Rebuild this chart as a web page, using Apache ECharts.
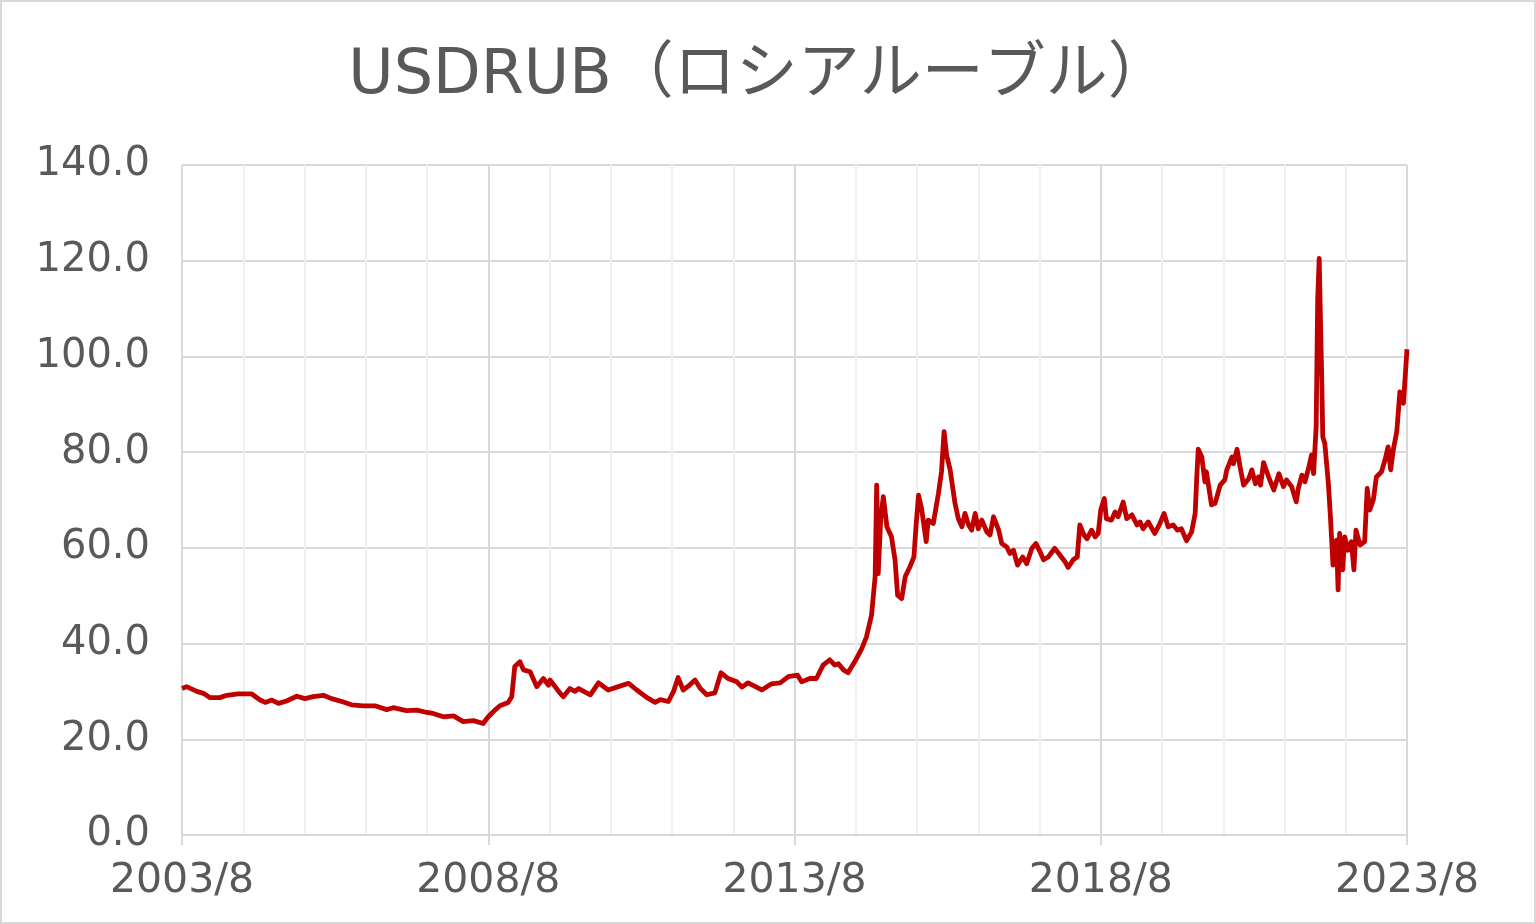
<!DOCTYPE html>
<html>
<head>
<meta charset="utf-8">
<script src="https://cdn.jsdelivr.net/npm/echarts@6/dist/echarts.min.js"></script>
<style>
html,body{margin:0;padding:0;background:#fff;}
#chart{width:1536px;height:924px;box-shadow:inset 0 0 0 2px #d9d9d9;}
</style>
</head>
<body>
<div id="chart"></div>
<script>
// months since 2003/8
const monthIdx = [
0,0.9,2.9,4.2,5.5,7.4,8.8,11,13.6,15.3,16.3,17.6,18.9,20.5,22.5,24.1,25.7,27.7,29.3,31.3,33.2,35.5,37.8,40.1,41.4,44,46,48,49.2,51.2,53.2,55.1,57.1,59,
60,61.3,62.3,63.9,64.6,65.2,66.2,66.9,68.2,69.5,70.8,71.8,72.1,74.1,74.7,76,77,77.7,80,
81.6,83.5,85.5,87.5,89.1,91.1,92.7,93.7,95.3,96.3,97.2,98.2,99.2,100.5,101.5,102.8,104.4,105.6,107,108.7,109.7,110.9,
113.6,115.5,117.2,118.8,120.6,121.4,123,124.3,125.6,126.9,127.9,128.6,129.6,130.5,131.9,133.2,134.1,135.1,135.8,
136.1,136.4,136.9,137.4,138.1,139,139.7,140.2,141,141.7,142.6,143.4,143.8,144.3,144.9,145.8,146.2,147.2,148.2,148.8,
149.3,149.8,150.5,151.4,152.1,152.8,153.4,154.1,154.7,155.4,156,156.7,157.7,158.3,159,160,160.6,161.6,162.2,162.9,
163.7,164.7,165.5,166.5,167.3,168.1,168.8,169.7,171,172,173,173.6,174.6,175.4,175.9,176.7,177.3,178.2,178.9,179.5,
180,180.7,181.1,182.1,182.8,183.4,184.4,185.1,186.1,187.1,187.7,188.3,189.3,190.6,191.6,192.4,193.2,194.2,195,195.8,
196.8,197.8,198.5,198.8,199.1,199.8,200.4,200.7,201.7,202.4,
203.4,204.3,204.7,205.7,206,206.7,207.3,208,209,209.6,210.3,210.9,211.3,211.9,212.9,213.9,214.9,215.8,216.4,217.4,
218.3,218.7,219.4,220,220.7,221.3,221.7,222.2,222.5,222.8,223.1,223.3,223.5,223.9,224.6,225,225.5,226.2,226.5,226.8,
227.4,227.8,228.4,229.1,229.6,230,230.8,231.7,232.2,232.7,233.4,234,235,235.7,236.3,236.8,237.3,238,238.6,239.3,240
];
const rate = [
30.6,31.0,30.0,29.6,28.7,28.7,29.2,29.5,29.5,28.2,27.7,28.2,27.5,28.0,29.0,28.5,28.9,29.2,28.5,27.9,27.2,27.0,27.0,26.2,26.6,26.0,26.1,25.6,25.4,24.7,24.9,23.7,23.9,23.3,
24.7,26.1,27.0,27.7,28.9,35.2,36.2,34.5,34.1,31.0,32.7,31.3,32.4,29.6,28.9,30.6,30.0,30.6,29.3,
31.8,30.3,31.0,31.7,30.3,28.7,27.7,28.3,27.9,30.0,32.9,30.3,31.1,32.4,30.7,29.3,29.7,33.9,32.7,32.0,30.9,31.8,
30.3,31.6,31.8,33.1,33.4,32.0,32.7,32.7,35.5,36.6,35.5,35.8,34.5,33.9,36.4,39.0,41.4,46.0,54.0,
73.1,54.6,66.1,70.7,64.4,62.3,57.5,50.1,49.4,54.0,56.0,58.1,64.4,71.0,68.2,61.3,65.8,65.1,71.4,75.9,
84.3,79.4,76.3,69.6,66.1,64.4,67.2,64.8,63.7,67.2,64.0,65.8,63.3,62.7,66.5,63.7,60.9,60.2,58.8,59.5,
56.4,58.1,56.7,59.9,60.9,59.2,57.5,58.1,59.9,58.5,57.1,55.9,57.5,58.1,64.8,62.7,61.9,63.7,62.3,63.0,
67.9,70.3,66.1,65.8,67.5,66.5,69.6,66.1,66.9,64.8,65.4,64.0,65.4,63.0,65.1,67.2,64.4,64.8,63.7,64.0,
61.5,63.3,67.2,74.5,80.6,79.0,73.8,75.9,69.0,69.3,
73.1,74.2,76.3,79.0,77.6,80.6,76.9,73.1,74.5,76.3,73.4,74.8,73.1,77.8,74.8,72.1,75.5,72.8,74.2,72.8,
69.6,72.4,75.2,73.8,76.6,79.4,75.5,85.3,111.8,120.5,104.8,95.1,83.2,81.8,73.4,66.5,56.4,61.6,51.2,63.0,
55.4,62.3,59.5,61.3,55.4,63.7,60.6,61.3,72.4,67.9,70.0,74.8,75.9,78.4,81.1,76.3,80.4,84.3,92.6,90.2,101.5
];
const startYear = 2003, startMonth = 8;
const yTicks = {min: 0, max: 140, step: 20};
const titleText = 'USDRUB（ロシアルーブル）';

const chart = echarts.init(document.getElementById('chart'));
const font = '"DejaVu Sans", "Noto Sans CJK JP", sans-serif';
chart.setOption({
  animation: false,
  title: {
    text: titleText,
    left: 754, top: 41, textAlign: 'center',
    textStyle: {fontFamily: font, fontSize: 62, fontWeight: 'normal', color: '#595959'}
  },
  grid: {left: 182, right: 129, top: 165, bottom: 89, containLabel: false},
  xAxis: {
    type: 'value', min: 0, max: 240, interval: 60,
    axisLine: {show: true, lineStyle: {color: '#d9d9d9', width: 2}},
    axisTick: {show: true, length: 10, lineStyle: {color: '#d9d9d9', width: 2}},
    minorTick: {show: false, splitNumber: 5},
    minorSplitLine: {show: true, lineStyle: {color: '#efefef', width: 2}},
    splitLine: {show: true, lineStyle: {color: '#d9d9d9', width: 2}},
    axisLabel: {
      margin: 26, color: '#595959', fontFamily: font, fontSize: 41,
      formatter: v => (startYear + Math.round(v / 12)) + '/' + startMonth
    }
  },
  yAxis: {
    type: 'value', min: yTicks.min, max: yTicks.max, interval: yTicks.step,
    axisLine: {show: false}, axisTick: {show: false},
    splitLine: {show: true, lineStyle: {color: '#d9d9d9', width: 2}},
    axisLabel: {margin: 32, color: '#595959', fontFamily: font, fontSize: 40, formatter: v => v.toFixed(1)}
  },
  series: [{
    type: 'line', showSymbol: false, symbol: 'none',
    data: monthIdx.map((m, i) => [m, rate[i]]),
    lineStyle: {color: '#c00000', width: 4.8, join: 'round'},
    z: 5
  }]
});
</script>
</body>
</html>
